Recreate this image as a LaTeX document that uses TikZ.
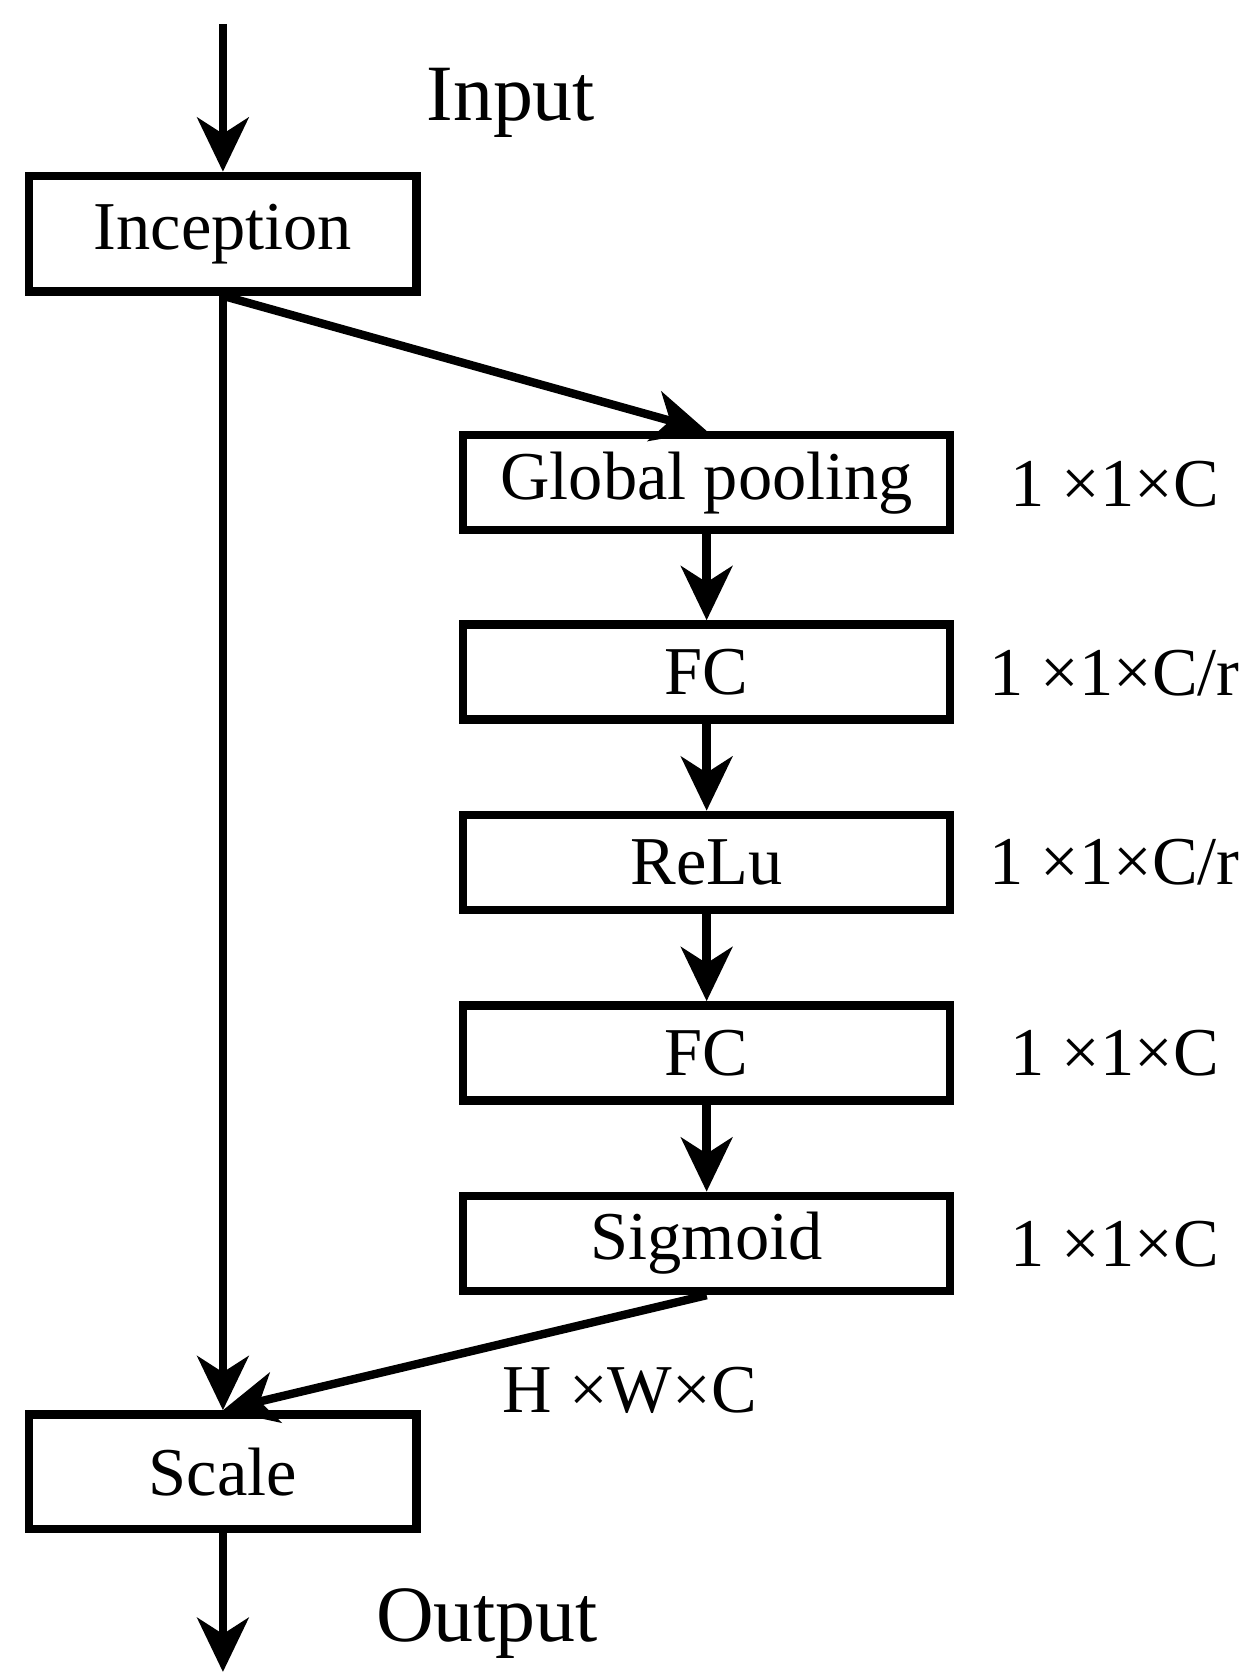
\documentclass[tikz,border=0pt]{standalone}
\usepackage{fontspec}
\setmainfont{Liberation Serif}
\usetikzlibrary{arrows.meta}
\begin{document}
\begin{tikzpicture}[x=0.02cm,y=-0.02cm,
  box/.style={draw,line width=4.4pt,minimum height=1.76cm,inner sep=0pt,font=\fontsize{36}{40}\selectfont},
  lbl/.style={font=\fontsize{36}{40}\selectfont,inner sep=0pt},
  big/.style={font=\fontsize{42}{46}\selectfont,inner sep=0pt},
  arr/.style={line width=4.4pt,-{Stealth[length=1cm,width=0.95cm,inset=0.3cm]}}]
\useasboundingbox (0,0) rectangle (1160,1546);
\node[box,minimum width=7.16cm,minimum height=2.14cm] (inc) at (206,216) {Inception};
\node[box,minimum width=7.16cm,minimum height=2.12cm] (sc) at (206,1360) {Scale};
\node[box,minimum width=9cm] (gp) at (653,446) {Global pooling};
\node[box,minimum width=9cm] (fc1) at (653,621) {FC};
\node[box,minimum width=9cm] (re) at (653,797) {ReLu};
\node[box,minimum width=9cm] (fc2) at (653,973) {FC};
\node[box,minimum width=9cm] (sg) at (653,1149) {Sigmoid};
\coordinate (in) at (206,22);
\coordinate (out) at (206,1545);
\node[big] at (472,95) {Input};
\node[big] at (450,1500) {Output};
\node[lbl] at (1030,447) {1 ×1×C};
\node[lbl] at (1030,622) {1 ×1×C/r};
\node[lbl] at (1030,797) {1 ×1×C/r};
\node[lbl] at (1030,973) {1 ×1×C};
\node[lbl] at (1030,1150) {1 ×1×C};
\node[lbl] at (582,1285) {H ×W×C};
\draw[arr] (in) -- (inc.north);
\draw[arr] (inc.south) -- (sc.north);
\draw[arr] (inc.south) -- (gp.north);
\draw[arr] (gp) -- (fc1);
\draw[arr] (fc1) -- (re);
\draw[arr] (re) -- (fc2);
\draw[arr] (fc2) -- (sg);
\draw[arr] (sg.south) -- (sc.north);
\draw[arr] (sc.south) -- (out);
\end{tikzpicture}
\end{document}
